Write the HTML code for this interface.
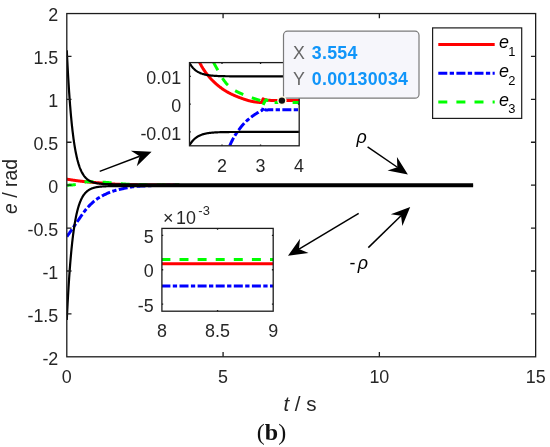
<!DOCTYPE html>
<html><head><meta charset="utf-8"><title>Figure (b)</title>
<style>html,body{margin:0;padding:0;background:#fff}body{width:550px;height:447px;overflow:hidden}</style>
</head><body>
<svg width="550" height="447" viewBox="0 0 550 447" style="display:block">
<rect width="550" height="447" fill="#fff"/>
<defs>
<clipPath id="cm"><rect x="66.8" y="13.55" width="468.84999999999997" height="343.25"/></clipPath>
<clipPath id="c1"><rect x="189.5" y="62.6" width="109.69999999999999" height="83.20000000000002"/></clipPath>
<clipPath id="c2"><rect x="161.9" y="228.4" width="111.29999999999998" height="82.79999999999998"/></clipPath>
</defs>
<g clip-path="url(#cm)" fill="none" stroke-linejoin="round">
<path d="M66.80,179.17 L67.06,179.21 L67.33,179.26 L67.59,179.30 L67.85,179.34 L68.11,179.39 L68.38,179.43 L68.64,179.47 L68.90,179.51 L69.16,179.56 L69.43,179.60 L69.69,179.64 L69.95,179.68 L70.21,179.72 L70.48,179.76 L70.74,179.80 L71.00,179.84 L71.27,179.88 L71.53,179.92 L71.79,179.96 L72.05,180.00 L72.32,180.04 L72.58,180.08 L72.84,180.12 L73.10,180.16 L73.37,180.19 L73.63,180.23 L73.89,180.27 L74.15,180.31 L74.42,180.34 L74.68,180.38 L74.94,180.42 L75.21,180.45 L75.47,180.49 L75.73,180.53 L75.99,180.56 L76.26,180.60 L76.52,180.63 L76.78,180.67 L77.04,180.70 L77.31,180.74 L77.57,180.77 L77.83,180.81 L78.09,180.84 L78.36,180.87 L78.62,180.91 L78.88,180.94 L79.15,180.98 L79.41,181.01 L79.67,181.04 L79.93,181.07 L80.20,181.11 L80.46,181.14 L80.72,181.17 L80.98,181.20 L81.25,181.23 L81.51,181.26 L81.77,181.29 L82.03,181.33 L82.30,181.36 L82.56,181.39 L82.82,181.42 L83.08,181.45 L83.35,181.48 L83.61,181.51 L83.87,181.54 L84.14,181.56 L84.40,181.59 L84.66,181.62 L84.92,181.65 L85.19,181.68 L85.45,181.71 L85.71,181.74 L85.97,181.76 L86.24,181.79 L86.50,181.82 L86.76,181.85 L87.02,181.87 L87.29,181.90 L87.55,181.93 L87.81,181.95 L88.08,181.98 L88.34,182.00 L88.60,182.03 L88.86,182.05 L89.13,182.08 L89.39,182.10 L89.65,182.13 L89.91,182.15 L90.18,182.17 L90.44,182.20 L90.70,182.22 L90.96,182.24 L91.23,182.26 L91.49,182.28 L91.75,182.31 L92.02,182.33 L92.28,182.35 L92.54,182.37 L92.80,182.39 L93.07,182.41 L93.33,182.43 L93.59,182.45 L93.85,182.47 L94.12,182.49 L94.38,182.51 L94.64,182.53 L94.90,182.55 L95.17,182.57 L95.43,182.59 L95.69,182.61 L95.96,182.63 L96.22,182.65 L96.48,182.67 L96.74,182.69 L97.01,182.71 L97.27,182.73 L97.53,182.75 L97.79,182.77 L98.06,182.79 L98.37,182.82 L99.00,182.86 L99.62,182.91 L100.25,182.96 L100.88,183.01 L101.51,183.05 L102.13,183.10 L102.76,183.15 L103.39,183.20 L104.02,183.25 L104.64,183.30 L105.27,183.35 L105.90,183.40 L106.53,183.46 L107.16,183.52 L107.78,183.58 L108.41,183.65 L109.04,183.71 L109.67,183.77 L110.29,183.82 L110.92,183.87 L111.55,183.92 L112.18,183.96 L112.80,184.01 L113.43,184.05 L114.06,184.08 L114.69,184.12 L115.31,184.16 L115.94,184.19 L116.57,184.22 L117.20,184.25 L117.82,184.28 L118.45,184.31 L119.08,184.34 L119.71,184.37 L120.33,184.39 L120.96,184.42 L121.59,184.44 L122.22,184.47 L122.84,184.49 L123.47,184.51 L124.10,184.53 L124.73,184.56 L125.35,184.58 L125.98,184.60 L126.61,184.62 L127.24,184.63 L127.86,184.65 L128.49,184.67 L129.12,184.69 L129.75,184.71 L130.37,184.72 L131.00,184.74 L131.63,184.75 L132.26,184.77 L132.88,184.78 L133.51,184.80 L134.14,184.81 L134.77,184.82 L135.40,184.84 L136.02,184.85 L136.65,184.86 L137.28,184.87 L137.91,184.88 L138.53,184.89 L139.16,184.90 L139.79,184.91 L140.42,184.92 L141.04,184.93 L141.67,184.94 L142.30,184.95 L142.93,184.96 L143.55,184.97 L144.18,184.98 L144.81,184.99 L145.44,185.00 L146.06,185.01 L146.69,185.01 L147.32,185.02 L147.95,185.03 L148.57,185.04 L149.20,185.05 L149.83,185.05 L150.46,185.06 L151.08,185.07 L151.71,185.07 L152.34,185.08 L152.97,185.09 L153.59,185.09 L154.22,185.09 L154.85,185.10 L155.48,185.10 L156.10,185.11 L156.73,185.11 L157.36,185.11 L157.99,185.12 L158.61,185.12 L159.24,185.12 L159.87,185.12 L160.50,185.12 L161.12,185.13 L161.75,185.10 L162.38,185.04 L163.01,185.02 L163.64,185.03 L164.26,185.04 L164.89,185.04 L165.52,185.05 L166.15,185.05 L166.77,185.05 L167.40,185.06 L168.03,185.06 L168.66,185.06 L169.28,185.06 L169.91,185.06 L170.54,185.06 L171.17,185.06 L171.79,185.06 L172.42,185.06 L173.05,185.06 L173.68,185.06 L174.30,185.06 L174.93,185.06 L175.56,185.06 L176.19,185.06 L176.81,185.06 L177.44,185.06 L178.07,185.06 L178.70,185.06 L179.32,185.06" stroke="#ff0000" stroke-width="3.0"/>
<path d="M66.80,236.66 L67.06,236.31 L67.33,235.96 L67.59,235.60 L67.85,235.24 L68.11,234.87 L68.38,234.51 L68.64,234.14 L68.90,233.77 L69.16,233.39 L69.43,233.02 L69.69,232.64 L69.95,232.26 L70.21,231.88 L70.48,231.50 L70.74,231.11 L71.00,230.73 L71.27,230.34 L71.53,229.95 L71.79,229.57 L72.05,229.18 L72.32,228.79 L72.58,228.40 L72.84,228.01 L73.10,227.63 L73.37,227.24 L73.63,226.85 L73.89,226.46 L74.15,226.07 L74.42,225.69 L74.68,225.30 L74.94,224.92 L75.21,224.53 L75.47,224.15 L75.73,223.77 L75.99,223.39 L76.26,223.01 L76.52,222.63 L76.78,222.25 L77.04,221.88 L77.31,221.50 L77.57,221.13 L77.83,220.76 L78.09,220.39 L78.36,220.03 L78.62,219.66 L78.88,219.29 L79.15,218.92 L79.41,218.54 L79.67,218.16 L79.93,217.78 L80.20,217.40 L80.46,217.02 L80.72,216.64 L80.98,216.26 L81.25,215.88 L81.51,215.50 L81.77,215.12 L82.03,214.75 L82.30,214.37 L82.56,214.00 L82.82,213.63 L83.08,213.26 L83.35,212.89 L83.61,212.53 L83.87,212.17 L84.14,211.82 L84.40,211.47 L84.66,211.12 L84.92,210.78 L85.19,210.44 L85.45,210.11 L85.71,209.78 L85.97,209.45 L86.24,209.13 L86.50,208.82 L86.76,208.51 L87.02,208.20 L87.29,207.90 L87.55,207.61 L87.81,207.32 L88.08,207.03 L88.34,206.74 L88.60,206.46 L88.86,206.18 L89.13,205.90 L89.39,205.63 L89.65,205.36 L89.91,205.09 L90.18,204.82 L90.44,204.56 L90.70,204.30 L90.96,204.04 L91.23,203.79 L91.49,203.53 L91.75,203.29 L92.02,203.04 L92.28,202.80 L92.54,202.56 L92.80,202.33 L93.07,202.10 L93.33,201.87 L93.59,201.64 L93.85,201.42 L94.12,201.20 L94.38,200.98 L94.64,200.77 L94.90,200.56 L95.17,200.35 L95.43,200.15 L95.69,199.95 L95.96,199.75 L96.22,199.56 L96.48,199.37 L96.74,199.18 L97.01,199.00 L97.27,198.82 L97.53,198.64 L97.79,198.46 L98.06,198.29 L98.37,198.09 L99.00,197.69 L99.62,197.31 L100.25,196.94 L100.88,196.58 L101.51,196.23 L102.13,195.89 L102.76,195.57 L103.39,195.24 L104.02,194.93 L104.64,194.62 L105.27,194.32 L105.90,194.03 L106.53,193.74 L107.16,193.46 L107.78,193.18 L108.41,192.91 L109.04,192.65 L109.67,192.40 L110.29,192.15 L110.92,191.92 L111.55,191.69 L112.18,191.46 L112.80,191.25 L113.43,191.04 L114.06,190.84 L114.69,190.65 L115.31,190.46 L115.94,190.29 L116.57,190.12 L117.20,189.96 L117.82,189.81 L118.45,189.66 L119.08,189.51 L119.71,189.37 L120.33,189.23 L120.96,189.09 L121.59,188.95 L122.22,188.82 L122.84,188.68 L123.47,188.55 L124.10,188.41 L124.73,188.28 L125.35,188.14 L125.98,188.01 L126.61,187.87 L127.24,187.74 L127.86,187.61 L128.49,187.49 L129.12,187.37 L129.75,187.25 L130.37,187.14 L131.00,187.04 L131.63,186.94 L132.26,186.85 L132.88,186.76 L133.51,186.68 L134.14,186.61 L134.77,186.54 L135.40,186.48 L136.02,186.42 L136.65,186.37 L137.28,186.32 L137.91,186.27 L138.53,186.23 L139.16,186.19 L139.79,186.15 L140.42,186.11 L141.04,186.07 L141.67,186.04 L142.30,186.00 L142.93,185.97 L143.55,185.94 L144.18,185.91 L144.81,185.88 L145.44,185.85 L146.06,185.82 L146.69,185.79 L147.32,185.77 L147.95,185.74 L148.57,185.72 L149.20,185.69 L149.83,185.67 L150.46,185.65 L151.08,185.63 L151.71,185.61 L152.34,185.59 L152.97,185.57 L153.59,185.56 L154.22,185.54 L154.85,185.52 L155.48,185.51 L156.10,185.49 L156.73,185.48 L157.36,185.46 L157.99,185.45 L158.61,185.43 L159.24,185.42 L159.87,185.40 L160.50,185.39 L161.12,185.38 L161.75,185.36 L162.38,185.32 L163.01,185.29 L163.64,185.32 L164.26,185.34 L164.89,185.35 L165.52,185.36 L166.15,185.35 L166.77,185.35 L167.40,185.35 L168.03,185.35 L168.66,185.35 L169.28,185.35 L169.91,185.35 L170.54,185.35 L171.17,185.35 L171.79,185.35 L172.42,185.35 L173.05,185.35 L173.68,185.35 L174.30,185.35 L174.93,185.35 L175.56,185.35 L176.19,185.35 L176.81,185.35 L177.44,185.35 L178.07,185.35 L178.70,185.35 L179.32,185.35" stroke="#0000ff" stroke-width="3.0" stroke-dasharray="9 2.4 4.3 2.4"/>
<path d="M66.80,185.18 L67.06,185.17 L67.33,185.17 L67.59,185.17 L67.85,185.16 L68.11,185.16 L68.38,185.15 L68.64,185.14 L68.90,185.13 L69.16,185.12 L69.43,185.11 L69.69,185.10 L69.95,185.09 L70.21,185.07 L70.48,185.06 L70.74,185.04 L71.00,185.03 L71.27,185.02 L71.53,185.00 L71.79,184.98 L72.05,184.97 L72.32,184.95 L72.58,184.92 L72.84,184.90 L73.10,184.87 L73.37,184.84 L73.63,184.81 L73.89,184.78 L74.15,184.75 L74.42,184.71 L74.68,184.67 L74.94,184.63 L75.21,184.59 L75.47,184.55 L75.73,184.51 L75.99,184.47 L76.26,184.42 L76.52,184.36 L76.78,184.30 L77.04,184.23 L77.31,184.16 L77.57,184.08 L77.83,184.00 L78.09,183.92 L78.36,183.83 L78.62,183.75 L78.88,183.66 L79.15,183.57 L79.41,183.49 L79.67,183.40 L79.93,183.31 L80.20,183.23 L80.46,183.15 L80.72,183.07 L80.98,183.00 L81.25,182.92 L81.51,182.83 L81.77,182.75 L82.03,182.66 L82.30,182.57 L82.56,182.49 L82.82,182.41 L83.08,182.33 L83.35,182.25 L83.61,182.18 L83.87,182.12 L84.14,182.07 L84.40,182.03 L84.66,182.00 L84.92,181.97 L85.19,181.94 L85.45,181.92 L85.71,181.89 L85.97,181.87 L86.24,181.85 L86.50,181.83 L86.76,181.81 L87.02,181.79 L87.29,181.78 L87.55,181.77 L87.81,181.76 L88.08,181.75 L88.34,181.74 L88.60,181.74 L88.86,181.74 L89.13,181.74 L89.39,181.75 L89.65,181.75 L89.91,181.75 L90.18,181.76 L90.44,181.76 L90.70,181.77 L90.96,181.78 L91.23,181.78 L91.49,181.79 L91.75,181.80 L92.02,181.80 L92.28,181.81 L92.54,181.82 L92.80,181.82 L93.07,181.83 L93.33,181.83 L93.59,181.84 L93.85,181.85 L94.12,181.85 L94.38,181.86 L94.64,181.86 L94.90,181.87 L95.17,181.88 L95.43,181.88 L95.69,181.89 L95.96,181.90 L96.22,181.90 L96.48,181.91 L96.74,181.92 L97.01,181.92 L97.27,181.93 L97.53,181.94 L97.79,181.95 L98.06,181.95 L98.37,181.96 L99.00,181.98 L99.62,182.00 L100.25,182.02 L100.88,182.05 L101.51,182.07 L102.13,182.10 L102.76,182.13 L103.39,182.17 L104.02,182.22 L104.64,182.26 L105.27,182.31 L105.90,182.37 L106.53,182.42 L107.16,182.48 L107.78,182.54 L108.41,182.60 L109.04,182.66 L109.67,182.72 L110.29,182.78 L110.92,182.84 L111.55,182.89 L112.18,182.95 L112.80,183.00 L113.43,183.06 L114.06,183.12 L114.69,183.18 L115.31,183.24 L115.94,183.30 L116.57,183.36 L117.20,183.42 L117.82,183.48 L118.45,183.54 L119.08,183.59 L119.71,183.65 L120.33,183.71 L120.96,183.76 L121.59,183.81 L122.22,183.86 L122.84,183.91 L123.47,183.96 L124.10,184.00 L124.73,184.05 L125.35,184.09 L125.98,184.13 L126.61,184.17 L127.24,184.22 L127.86,184.26 L128.49,184.30 L129.12,184.34 L129.75,184.38 L130.37,184.41 L131.00,184.45 L131.63,184.48 L132.26,184.51 L132.88,184.54 L133.51,184.56 L134.14,184.59 L134.77,184.61 L135.40,184.63 L136.02,184.65 L136.65,184.67 L137.28,184.69 L137.91,184.71 L138.53,184.72 L139.16,184.74 L139.79,184.75 L140.42,184.77 L141.04,184.78 L141.67,184.79 L142.30,184.81 L142.93,184.82 L143.55,184.83 L144.18,184.84 L144.81,184.85 L145.44,184.86 L146.06,184.87 L146.69,184.88 L147.32,184.89 L147.95,184.90 L148.57,184.91 L149.20,184.92 L149.83,184.93 L150.46,184.94 L151.08,184.94 L151.71,184.95 L152.34,184.96 L152.97,184.97 L153.59,184.98 L154.22,184.99 L154.85,185.00 L155.48,185.00 L156.10,185.01 L156.73,185.02 L157.36,185.03 L157.99,185.03 L158.61,185.04 L159.24,185.05 L159.87,185.06 L160.50,185.06 L161.12,185.07 L161.75,185.19 L162.38,185.22 L163.01,185.17 L163.64,185.12 L164.26,185.08 L164.89,185.04 L165.52,185.05 L166.15,185.06 L166.77,185.07 L167.40,185.07 L168.03,185.08 L168.66,185.09 L169.28,185.09 L169.91,185.09 L170.54,185.10 L171.17,185.10 L171.79,185.10 L172.42,185.11 L173.05,185.11 L173.68,185.11 L174.30,185.11 L174.93,185.11 L175.56,185.11 L176.19,185.12 L176.81,185.12 L177.44,185.12 L178.07,185.12 L178.70,185.12 L179.32,185.12" stroke="#00ff00" stroke-width="3.0" stroke-dasharray="9 9.1"/>
<path d="M66.80,50.38 L66.96,53.70 L67.11,56.93 L67.27,60.09 L67.43,63.17 L67.58,66.17 L67.74,69.10 L67.90,71.95 L68.05,74.73 L68.21,77.45 L68.37,80.09 L68.52,82.68 L68.68,85.19 L68.84,87.65 L69.00,90.04 L69.15,92.38 L69.31,94.66 L69.47,96.88 L69.62,99.04 L69.78,101.16 L69.94,103.22 L70.09,105.23 L70.25,107.18 L70.41,109.10 L70.56,110.96 L70.72,112.78 L70.88,114.55 L71.03,116.28 L71.19,117.96 L71.35,119.61 L71.50,121.21 L71.66,122.77 L71.82,124.30 L71.97,125.78 L72.13,127.23 L72.29,128.65 L72.45,130.03 L72.60,131.37 L72.76,132.68 L72.92,133.96 L73.07,135.21 L73.23,136.43 L73.39,137.61 L73.54,138.77 L73.70,139.90 L73.86,141.00 L74.01,142.07 L74.17,143.12 L74.33,144.14 L74.48,145.13 L74.64,146.10 L74.80,147.05 L74.95,147.97 L75.11,148.87 L75.27,149.75 L75.42,150.61 L75.58,151.44 L75.74,152.26 L75.89,153.05 L76.05,153.83 L76.21,154.58 L76.37,155.32 L76.52,156.04 L76.68,156.74 L76.84,157.42 L76.99,158.09 L77.15,158.74 L77.31,159.37 L77.46,159.99 L77.62,160.59 L77.78,161.18 L77.93,161.75 L78.09,162.31 L78.25,162.86 L78.40,163.39 L78.56,163.91 L78.72,164.41 L78.87,164.90 L79.03,165.39 L79.19,165.85 L79.34,166.31 L79.50,166.76 L79.66,167.19 L79.81,167.62 L79.97,168.03 L80.13,168.43 L80.29,168.83 L80.44,169.21 L80.60,169.59 L80.76,169.95 L80.91,170.31 L81.07,170.65 L81.23,170.99 L81.38,171.32 L81.54,171.64 L81.70,171.96 L81.85,172.26 L82.01,172.56 L82.17,172.85 L82.32,173.14 L82.48,173.41 L82.64,173.68 L82.79,173.95 L82.95,174.20 L83.11,174.46 L83.26,174.70 L83.42,174.94 L83.58,175.17 L83.74,175.40 L83.89,175.62 L84.05,175.83 L84.21,176.04 L84.36,176.25 L84.52,176.45 L84.68,176.64 L84.83,176.83 L84.99,177.02 L85.15,177.20 L85.30,177.38 L85.46,177.55 L85.62,177.72 L85.77,177.88 L85.93,178.04 L86.09,178.19 L86.24,178.35 L86.40,178.49 L86.56,178.64 L86.71,178.78 L86.87,178.92 L87.03,179.05 L87.18,179.18 L87.34,179.31 L87.50,179.43 L87.66,179.55 L87.81,179.67 L87.97,179.79 L88.13,179.90 L88.28,180.01 L88.44,180.11 L88.60,180.22 L88.75,180.32 L88.91,180.42 L89.07,180.52 L89.22,180.61 L89.38,180.70 L89.54,180.79 L89.69,180.88 L89.85,180.96 L90.01,181.05 L90.16,181.13 L90.32,181.21 L90.48,181.28 L90.63,181.36 L90.79,181.43 L90.95,181.50 L91.10,181.57 L91.26,181.64 L91.42,181.71 L91.58,181.77 L91.73,181.83 L91.89,181.90 L92.05,181.96 L92.20,182.01 L92.36,182.07 L92.52,182.13 L92.67,182.18 L92.83,182.23 L92.99,182.29 L93.14,182.34 L93.30,182.39 L93.46,182.43 L93.61,182.48 L93.77,182.53 L93.93,182.57 L94.08,182.61 L94.24,182.66 L94.40,182.70 L94.55,182.74 L94.71,182.78 L94.87,182.81 L95.03,182.85 L95.18,182.89 L95.34,182.92 L95.50,182.96 L95.65,182.99 L95.81,183.02 L95.97,183.06 L96.12,183.09 L96.28,183.12 L96.44,183.15 L96.59,183.18 L96.75,183.20 L96.91,183.23 L97.06,183.26 L97.22,183.29 L97.38,183.31 L97.53,183.34 L97.69,183.36 L97.85,183.38 L98.00,183.41 L98.16,183.43 L98.32,183.45 L98.47,183.47 L98.63,183.49 L98.79,183.51 L98.95,183.53 L99.10,183.55 L99.26,183.57 L99.42,183.59 L99.57,183.61 L99.73,183.63 L99.89,183.64 L100.04,183.66 L100.20,183.68 L100.36,183.69 L100.51,183.71 L100.67,183.72 L100.83,183.74 L100.98,183.75 L101.14,183.77 L101.30,183.78 L101.45,183.79 L101.61,183.81 L101.77,183.82 L101.92,183.83 L102.08,183.84 L102.24,183.85 L102.39,183.87 L102.55,183.88 L102.71,183.89 L102.87,183.90 L103.02,183.91 L103.18,183.92 L103.34,183.93 L103.49,183.94 L103.65,183.95 L103.81,183.96 L103.96,183.97 L104.12,183.97 L104.28,183.98 L104.43,183.99 L104.59,184.00 L104.75,184.01 L104.90,184.02 L105.06,184.02 L105.22,184.03 L105.37,184.04 L105.53,184.04 L105.69,184.05 L105.84,184.06 L106.00,184.06 L106.16,184.07 L106.32,184.08 L106.47,184.08 L106.63,184.09 L106.79,184.09 L106.94,184.10 L107.10,184.10 L107.26,184.11 L107.41,184.11 L107.57,184.12 L107.73,184.12 L107.88,184.13 L108.04,184.13 L108.20,184.14 L108.35,184.14 L108.51,184.15 L108.67,184.15 L108.82,184.16 L108.98,184.16 L109.14,184.16 L109.29,184.17 L109.45,184.17 L109.61,184.17 L109.76,184.18 L109.92,184.18 L110.08,184.18 L110.24,184.19 L110.39,184.19 L110.55,184.19 L110.71,184.20 L110.86,184.20 L111.02,184.20 L111.18,184.21 L111.33,184.21 L111.49,184.21 L111.65,184.21 L111.80,184.22 L111.96,184.22 L112.12,184.22 L112.27,184.22 L112.43,184.23 L112.59,184.23 L112.74,184.23 L112.90,184.23 L113.06,184.23 L113.21,184.24 L113.37,184.24 L113.53,184.24 L113.69,184.24 L114.31,184.25 L120.39,184.29 L126.47,184.31 L132.56,184.31 L138.64,184.32 L144.72,184.32 L150.80,184.32 L156.88,184.32 L162.96,184.32 L169.05,184.32 L175.13,184.32 L181.21,184.32 L187.29,184.32 L193.37,184.32 L199.46,184.32 L205.54,184.32 L211.62,184.32 L217.70,184.32 L223.78,184.32 L229.86,184.32 L235.95,184.32 L242.03,184.32 L248.11,184.32 L254.19,184.32 L260.27,184.32 L266.36,184.32 L272.44,184.32 L278.52,184.32 L284.60,184.32 L290.68,184.32 L296.76,184.32 L302.85,184.32 L308.93,184.32 L315.01,184.32 L321.09,184.32 L327.17,184.32 L333.26,184.32 L339.34,184.32 L345.42,184.32 L351.50,184.32 L357.58,184.32 L363.66,184.32 L369.75,184.32 L375.83,184.32 L381.91,184.32 L387.99,184.32 L394.07,184.32 L400.15,184.32 L406.24,184.32 L412.32,184.32 L418.40,184.32 L424.48,184.32 L430.56,184.32 L436.65,184.32 L442.73,184.32 L448.81,184.32 L454.89,184.32 L460.97,184.32 L467.05,184.32 L473.14,184.32" stroke="#000" stroke-width="2.2"/>
<path d="M66.80,319.97 L66.96,316.65 L67.11,313.42 L67.27,310.26 L67.43,307.18 L67.58,304.18 L67.74,301.25 L67.90,298.40 L68.05,295.62 L68.21,292.90 L68.37,290.26 L68.52,287.67 L68.68,285.16 L68.84,282.70 L69.00,280.31 L69.15,277.97 L69.31,275.69 L69.47,273.47 L69.62,271.31 L69.78,269.19 L69.94,267.13 L70.09,265.12 L70.25,263.17 L70.41,261.25 L70.56,259.39 L70.72,257.57 L70.88,255.80 L71.03,254.07 L71.19,252.39 L71.35,250.74 L71.50,249.14 L71.66,247.58 L71.82,246.05 L71.97,244.57 L72.13,243.12 L72.29,241.70 L72.45,240.32 L72.60,238.98 L72.76,237.67 L72.92,236.39 L73.07,235.14 L73.23,233.92 L73.39,232.74 L73.54,231.58 L73.70,230.45 L73.86,229.35 L74.01,228.28 L74.17,227.23 L74.33,226.21 L74.48,225.22 L74.64,224.25 L74.80,223.30 L74.95,222.38 L75.11,221.48 L75.27,220.60 L75.42,219.74 L75.58,218.91 L75.74,218.09 L75.89,217.30 L76.05,216.52 L76.21,215.77 L76.37,215.03 L76.52,214.31 L76.68,213.61 L76.84,212.93 L76.99,212.26 L77.15,211.61 L77.31,210.98 L77.46,210.36 L77.62,209.76 L77.78,209.17 L77.93,208.60 L78.09,208.04 L78.25,207.49 L78.40,206.96 L78.56,206.44 L78.72,205.94 L78.87,205.45 L79.03,204.96 L79.19,204.50 L79.34,204.04 L79.50,203.59 L79.66,203.16 L79.81,202.73 L79.97,202.32 L80.13,201.92 L80.29,201.52 L80.44,201.14 L80.60,200.76 L80.76,200.40 L80.91,200.04 L81.07,199.70 L81.23,199.36 L81.38,199.03 L81.54,198.71 L81.70,198.39 L81.85,198.09 L82.01,197.79 L82.17,197.50 L82.32,197.21 L82.48,196.94 L82.64,196.67 L82.79,196.40 L82.95,196.15 L83.11,195.89 L83.26,195.65 L83.42,195.41 L83.58,195.18 L83.74,194.95 L83.89,194.73 L84.05,194.52 L84.21,194.31 L84.36,194.10 L84.52,193.90 L84.68,193.71 L84.83,193.52 L84.99,193.33 L85.15,193.15 L85.30,192.97 L85.46,192.80 L85.62,192.63 L85.77,192.47 L85.93,192.31 L86.09,192.16 L86.24,192.00 L86.40,191.86 L86.56,191.71 L86.71,191.57 L86.87,191.43 L87.03,191.30 L87.18,191.17 L87.34,191.04 L87.50,190.92 L87.66,190.80 L87.81,190.68 L87.97,190.56 L88.13,190.45 L88.28,190.34 L88.44,190.24 L88.60,190.13 L88.75,190.03 L88.91,189.93 L89.07,189.83 L89.22,189.74 L89.38,189.65 L89.54,189.56 L89.69,189.47 L89.85,189.39 L90.01,189.30 L90.16,189.22 L90.32,189.14 L90.48,189.07 L90.63,188.99 L90.79,188.92 L90.95,188.85 L91.10,188.78 L91.26,188.71 L91.42,188.64 L91.58,188.58 L91.73,188.52 L91.89,188.45 L92.05,188.39 L92.20,188.34 L92.36,188.28 L92.52,188.22 L92.67,188.17 L92.83,188.12 L92.99,188.06 L93.14,188.01 L93.30,187.96 L93.46,187.92 L93.61,187.87 L93.77,187.82 L93.93,187.78 L94.08,187.74 L94.24,187.69 L94.40,187.65 L94.55,187.61 L94.71,187.57 L94.87,187.54 L95.03,187.50 L95.18,187.46 L95.34,187.43 L95.50,187.39 L95.65,187.36 L95.81,187.33 L95.97,187.29 L96.12,187.26 L96.28,187.23 L96.44,187.20 L96.59,187.17 L96.75,187.15 L96.91,187.12 L97.06,187.09 L97.22,187.06 L97.38,187.04 L97.53,187.01 L97.69,186.99 L97.85,186.97 L98.00,186.94 L98.16,186.92 L98.32,186.90 L98.47,186.88 L98.63,186.86 L98.79,186.84 L98.95,186.82 L99.10,186.80 L99.26,186.78 L99.42,186.76 L99.57,186.74 L99.73,186.72 L99.89,186.71 L100.04,186.69 L100.20,186.67 L100.36,186.66 L100.51,186.64 L100.67,186.63 L100.83,186.61 L100.98,186.60 L101.14,186.58 L101.30,186.57 L101.45,186.56 L101.61,186.54 L101.77,186.53 L101.92,186.52 L102.08,186.51 L102.24,186.50 L102.39,186.48 L102.55,186.47 L102.71,186.46 L102.87,186.45 L103.02,186.44 L103.18,186.43 L103.34,186.42 L103.49,186.41 L103.65,186.40 L103.81,186.39 L103.96,186.38 L104.12,186.38 L104.28,186.37 L104.43,186.36 L104.59,186.35 L104.75,186.34 L104.90,186.33 L105.06,186.33 L105.22,186.32 L105.37,186.31 L105.53,186.31 L105.69,186.30 L105.84,186.29 L106.00,186.29 L106.16,186.28 L106.32,186.27 L106.47,186.27 L106.63,186.26 L106.79,186.26 L106.94,186.25 L107.10,186.25 L107.26,186.24 L107.41,186.24 L107.57,186.23 L107.73,186.23 L107.88,186.22 L108.04,186.22 L108.20,186.21 L108.35,186.21 L108.51,186.20 L108.67,186.20 L108.82,186.19 L108.98,186.19 L109.14,186.19 L109.29,186.18 L109.45,186.18 L109.61,186.18 L109.76,186.17 L109.92,186.17 L110.08,186.17 L110.24,186.16 L110.39,186.16 L110.55,186.16 L110.71,186.15 L110.86,186.15 L111.02,186.15 L111.18,186.14 L111.33,186.14 L111.49,186.14 L111.65,186.14 L111.80,186.13 L111.96,186.13 L112.12,186.13 L112.27,186.13 L112.43,186.12 L112.59,186.12 L112.74,186.12 L112.90,186.12 L113.06,186.12 L113.21,186.11 L113.37,186.11 L113.53,186.11 L113.69,186.11 L114.31,186.10 L120.39,186.06 L126.47,186.04 L132.56,186.04 L138.64,186.03 L144.72,186.03 L150.80,186.03 L156.88,186.03 L162.96,186.03 L169.05,186.03 L175.13,186.03 L181.21,186.03 L187.29,186.03 L193.37,186.03 L199.46,186.03 L205.54,186.03 L211.62,186.03 L217.70,186.03 L223.78,186.03 L229.86,186.03 L235.95,186.03 L242.03,186.03 L248.11,186.03 L254.19,186.03 L260.27,186.03 L266.36,186.03 L272.44,186.03 L278.52,186.03 L284.60,186.03 L290.68,186.03 L296.76,186.03 L302.85,186.03 L308.93,186.03 L315.01,186.03 L321.09,186.03 L327.17,186.03 L333.26,186.03 L339.34,186.03 L345.42,186.03 L351.50,186.03 L357.58,186.03 L363.66,186.03 L369.75,186.03 L375.83,186.03 L381.91,186.03 L387.99,186.03 L394.07,186.03 L400.15,186.03 L406.24,186.03 L412.32,186.03 L418.40,186.03 L424.48,186.03 L430.56,186.03 L436.65,186.03 L442.73,186.03 L448.81,186.03 L454.89,186.03 L460.97,186.03 L467.05,186.03 L473.14,186.03" stroke="#000" stroke-width="2.2"/>
</g>
<rect x="66.8" y="13.55" width="468.85" height="343.25" fill="none" stroke="#1c1c1c" stroke-width="1.3"/>
<path d="M223.08,356.8 v-4.7 M223.08,13.55 v4.7 M379.37,356.8 v-4.7 M379.37,13.55 v4.7 M66.8,313.89 h4.7 M535.65,313.89 h-4.7 M66.8,270.99 h4.7 M535.65,270.99 h-4.7 M66.8,228.08 h4.7 M535.65,228.08 h-4.7 M66.8,185.18 h4.7 M535.65,185.18 h-4.7 M66.8,142.27 h4.7 M535.65,142.27 h-4.7 M66.8,99.36 h4.7 M535.65,99.36 h-4.7 M66.8,56.46 h4.7 M535.65,56.46 h-4.7 " stroke="#1c1c1c" stroke-width="1.3" fill="none"/>
<g font-family="Liberation Sans, Arial, sans-serif" font-size="17.9" fill="#262626">
<text x="58.3" y="364.50" text-anchor="end">-2</text>
<text x="58.3" y="321.59" text-anchor="end">-1.5</text>
<text x="58.3" y="278.69" text-anchor="end">-1</text>
<text x="58.3" y="235.78" text-anchor="end">-0.5</text>
<text x="58.3" y="192.88" text-anchor="end">0</text>
<text x="58.3" y="149.97" text-anchor="end">0.5</text>
<text x="58.3" y="107.06" text-anchor="end">1</text>
<text x="58.3" y="64.16" text-anchor="end">1.5</text>
<text x="58.3" y="21.25" text-anchor="end">2</text>
<text x="66.80" y="383.2" text-anchor="middle">0</text>
<text x="223.08" y="383.2" text-anchor="middle">5</text>
<text x="379.37" y="383.2" text-anchor="middle">10</text>
<text x="535.65" y="383.2" text-anchor="middle">15</text>
</g>
<g font-family="Liberation Sans, Arial, sans-serif" fill="#262626">
<text x="283.4" y="411.0" font-size="20.6"><tspan font-style="italic">t</tspan> / s</text>
<text transform="translate(16.9,213.9) rotate(-90)" font-size="19.4"><tspan font-style="italic">e</tspan> / rad</text>
</g>
<rect x="189.5" y="62.6" width="109.70" height="83.20" fill="#fff"/>
<g clip-path="url(#c1)" fill="none" stroke-linejoin="round">
<path d="M198.87,61.03 L199.26,61.85 L199.66,62.63 L200.05,63.39 L200.45,64.13 L200.84,64.85 L201.24,65.55 L201.63,66.24 L202.03,66.91 L202.42,67.57 L202.81,68.21 L203.21,68.83 L203.60,69.45 L204.00,70.05 L204.39,70.63 L204.79,71.21 L205.18,71.77 L205.58,72.33 L205.97,72.87 L206.36,73.40 L206.76,73.92 L207.15,74.42 L207.55,74.92 L207.94,75.42 L208.34,75.90 L208.73,76.37 L209.13,76.83 L209.52,77.29 L209.91,77.74 L210.31,78.18 L210.70,78.61 L211.10,79.03 L211.49,79.45 L211.89,79.86 L212.28,80.27 L212.68,80.67 L213.07,81.06 L213.46,81.44 L213.86,81.82 L214.25,82.20 L214.65,82.57 L215.04,82.93 L215.44,83.29 L215.83,83.64 L216.22,83.99 L216.62,84.33 L217.01,84.67 L217.41,85.00 L217.80,85.33 L218.20,85.66 L218.59,85.98 L218.99,86.29 L219.38,86.61 L219.77,86.91 L220.17,87.22 L220.56,87.52 L220.96,87.82 L221.35,88.11 L221.75,88.40 L222.14,88.68 L222.54,88.96 L222.93,89.24 L223.32,89.51 L223.72,89.77 L224.11,90.03 L224.51,90.29 L224.90,90.54 L225.30,90.78 L225.69,91.02 L226.09,91.26 L226.48,91.49 L226.87,91.72 L227.27,91.95 L227.66,92.17 L228.06,92.39 L228.45,92.60 L228.85,92.81 L229.24,93.02 L229.64,93.23 L230.03,93.43 L230.42,93.63 L230.82,93.82 L231.21,94.02 L231.61,94.21 L232.00,94.40 L232.40,94.58 L232.79,94.76 L233.19,94.94 L233.58,95.12 L233.97,95.30 L234.37,95.47 L234.76,95.64 L235.16,95.81 L235.55,95.98 L235.95,96.14 L236.34,96.30 L236.74,96.46 L237.13,96.62 L237.52,96.78 L237.92,96.93 L238.31,97.08 L238.71,97.23 L239.10,97.38 L239.50,97.53 L239.89,97.67 L240.29,97.82 L240.68,97.96 L241.07,98.10 L241.47,98.25 L241.86,98.39 L242.26,98.54 L242.65,98.68 L243.05,98.82 L243.44,98.97 L243.84,99.11 L244.23,99.24 L244.62,99.38 L245.02,99.51 L245.41,99.65 L245.81,99.77 L246.20,99.90 L246.60,100.02 L246.99,100.15 L247.38,100.26 L247.78,100.38 L248.17,100.49 L248.57,100.60 L248.96,100.70 L249.36,100.81 L249.75,100.90 L250.15,101.00 L250.54,101.09 L250.93,101.18 L251.33,101.27 L251.72,101.35 L252.12,101.43 L252.51,101.51 L252.91,101.58 L253.30,101.65 L253.70,101.72 L254.09,101.79 L254.48,101.85 L254.88,101.91 L255.27,101.97 L255.67,102.02 L256.06,102.08 L256.46,102.13 L256.85,102.17 L257.25,102.22 L257.64,102.26 L258.03,102.30 L258.43,102.34 L258.82,102.38 L259.22,102.41 L259.61,102.44 L260.01,102.47 L260.40,102.50 L260.80,102.52 L261.19,102.55 L261.32,102.55 L261.39,102.56 L261.46,102.56 L261.53,102.56 L261.58,102.57 L261.60,102.57 L261.67,102.57 L261.74,102.48 L261.81,102.28 L261.88,102.09 L261.95,101.90 L261.98,101.83 L262.02,101.71 L262.09,101.51 L262.16,101.32 L262.23,101.13 L262.30,100.94 L262.37,100.74 L262.37,100.74 L262.44,100.55 L262.51,100.36 L262.58,100.17 L262.65,99.97 L262.72,99.78 L262.77,99.66 L262.79,99.59 L262.86,99.40 L262.93,99.20 L263.00,99.01 L263.07,98.88 L263.14,98.91 L263.16,98.92 L263.21,98.95 L263.28,98.99 L263.35,99.02 L263.42,99.06 L263.49,99.09 L263.56,99.12 L263.56,99.12 L263.63,99.15 L263.70,99.18 L263.77,99.21 L263.84,99.24 L263.91,99.27 L263.95,99.29 L263.98,99.30 L264.05,99.33 L264.12,99.36 L264.19,99.38 L264.26,99.41 L264.33,99.43 L264.35,99.44 L264.40,99.46 L264.48,99.48 L264.55,99.51 L264.62,99.53 L264.69,99.55 L264.74,99.57 L264.76,99.57 L264.83,99.60 L264.90,99.62 L264.97,99.64 L265.04,99.66 L265.11,99.68 L265.13,99.69 L265.18,99.70 L265.25,99.72 L265.32,99.73 L265.39,99.75 L265.46,99.77 L265.53,99.79 L265.53,99.79 L265.60,99.80 L265.67,99.82 L265.74,99.84 L265.81,99.85 L265.88,99.87 L265.92,99.88 L265.95,99.88 L266.02,99.90 L266.09,99.91 L266.16,99.93 L266.23,99.94 L266.30,99.95 L266.32,99.96 L266.37,99.97 L266.44,99.98 L266.51,99.99 L266.58,100.00 L266.65,100.02 L266.71,100.03 L266.72,100.03 L266.79,100.04 L266.86,100.05 L266.93,100.06 L267.00,100.07 L267.07,100.08 L267.11,100.09 L267.14,100.09 L267.21,100.10 L267.28,100.11 L267.35,100.12 L267.42,100.13 L267.49,100.14 L267.50,100.14 L267.56,100.15 L267.63,100.16 L267.70,100.17 L267.77,100.17 L267.84,100.18 L267.90,100.19 L267.91,100.19 L267.98,100.20 L268.05,100.21 L268.12,100.21 L268.19,100.22 L268.26,100.23 L268.29,100.23 L268.68,100.27 L269.08,100.30 L269.47,100.33 L269.87,100.35 L270.26,100.37 L270.66,100.39 L271.05,100.41 L271.45,100.43 L271.84,100.44 L272.23,100.45 L272.63,100.46 L273.02,100.47 L273.42,100.48 L273.81,100.49 L274.21,100.49 L274.60,100.50 L275.00,100.50 L275.39,100.51 L275.78,100.51 L276.18,100.51 L276.57,100.52 L276.97,100.52 L277.36,100.52 L277.76,100.52 L278.15,100.52 L278.54,100.53 L278.94,100.53 L279.33,100.53 L279.73,100.53 L280.12,100.53 L280.52,100.53 L280.91,100.53 L281.31,100.53 L281.70,100.53 L282.09,100.53 L282.49,100.53 L282.88,100.53 L283.28,100.53 L283.67,100.53 L284.07,100.53 L284.46,100.53 L284.86,100.53 L285.25,100.53 L285.64,100.53 L286.04,100.54 L286.43,100.54 L286.83,100.54 L287.22,100.54 L287.62,100.54 L288.01,100.54 L288.41,100.54 L288.80,100.54 L289.19,100.54 L289.59,100.54 L289.98,100.54 L290.38,100.54 L290.77,100.54 L291.17,100.54 L291.56,100.54 L291.96,100.54 L292.35,100.54 L292.74,100.54 L293.14,100.54 L293.53,100.54 L293.93,100.54 L294.32,100.54 L294.72,100.54 L295.11,100.54 L295.51,100.54 L295.90,100.54 L296.29,100.54 L296.69,100.54 L297.08,100.54 L297.48,100.54 L297.87,100.54 L298.27,100.54 L298.66,100.54 L299.06,100.54 L299.45,100.54 L299.84,100.54 L300.24,100.54 L300.63,100.54 L301.03,100.54" stroke="#ff0000" stroke-width="3.0"/>
<path d="M229.71,145.85 L229.99,145.19 L230.26,144.54 L230.54,143.92 L230.81,143.30 L231.09,142.71 L231.36,142.12 L231.64,141.55 L231.91,141.00 L232.19,140.46 L232.46,139.92 L232.74,139.40 L233.01,138.89 L233.29,138.39 L233.56,137.90 L233.84,137.42 L234.12,136.95 L234.39,136.49 L234.67,136.03 L234.94,135.59 L235.22,135.14 L235.49,134.71 L235.77,134.28 L236.04,133.86 L236.32,133.45 L236.59,133.04 L236.87,132.63 L237.14,132.23 L237.42,131.84 L237.70,131.44 L237.97,131.06 L238.25,130.68 L238.52,130.30 L238.80,129.92 L239.07,129.55 L239.35,129.18 L239.62,128.81 L239.90,128.45 L240.17,128.09 L240.45,127.73 L240.72,127.37 L241.00,127.02 L241.28,126.67 L241.55,126.32 L241.83,125.98 L242.10,125.65 L242.38,125.32 L242.65,124.99 L242.93,124.68 L243.20,124.37 L243.48,124.06 L243.75,123.76 L244.03,123.46 L244.30,123.17 L244.58,122.88 L244.85,122.60 L245.13,122.32 L245.41,122.05 L245.68,121.78 L245.96,121.51 L246.23,121.25 L246.51,120.99 L246.78,120.74 L247.06,120.49 L247.33,120.24 L247.61,120.00 L247.88,119.76 L248.16,119.52 L248.43,119.28 L248.71,119.05 L248.99,118.82 L249.26,118.59 L249.54,118.37 L249.81,118.15 L250.09,117.93 L250.36,117.71 L250.64,117.50 L250.91,117.29 L251.19,117.08 L251.46,116.87 L251.74,116.67 L252.01,116.47 L252.29,116.27 L252.56,116.07 L252.84,115.87 L253.12,115.68 L253.39,115.49 L253.67,115.29 L253.94,115.11 L254.22,114.92 L254.49,114.73 L254.77,114.55 L255.04,114.37 L255.32,114.19 L255.59,114.01 L255.87,113.84 L256.14,113.66 L256.42,113.49 L256.69,113.32 L256.97,113.15 L257.25,112.98 L257.52,112.82 L257.80,112.65 L258.07,112.49 L258.35,112.33 L258.62,112.17 L258.90,112.01 L259.17,111.86 L259.45,111.70 L259.72,111.55 L260.00,111.40 L260.27,111.25 L260.55,111.10 L260.83,110.95 L261.10,110.79 L261.32,110.66 L261.38,110.63 L261.39,110.62 L261.46,110.58 L261.53,110.53 L261.60,110.49 L261.65,110.46 L261.67,110.45 L261.74,110.41 L261.81,110.37 L261.88,110.33 L261.93,110.30 L261.95,110.29 L262.02,110.24 L262.09,110.20 L262.16,110.16 L262.20,110.14 L262.23,110.12 L262.30,110.08 L262.37,110.05 L262.44,110.01 L262.48,109.99 L262.51,109.87 L262.58,109.65 L262.65,109.42 L262.72,109.19 L262.75,109.09 L262.79,108.96 L262.86,108.74 L262.93,108.51 L263.00,108.28 L263.03,108.20 L263.07,108.05 L263.14,107.83 L263.21,107.60 L263.28,107.53 L263.30,107.55 L263.35,107.61 L263.42,107.70 L263.49,107.79 L263.56,107.88 L263.58,107.90 L263.63,107.97 L263.70,108.06 L263.77,108.16 L263.84,108.25 L263.85,108.26 L263.91,108.34 L263.98,108.43 L264.05,108.52 L264.12,108.61 L264.13,108.62 L264.19,108.70 L264.26,108.79 L264.33,108.87 L264.40,108.95 L264.48,109.03 L264.55,109.11 L264.62,109.18 L264.68,109.24 L264.69,109.25 L264.76,109.32 L264.83,109.38 L264.90,109.44 L264.96,109.49 L264.97,109.50 L265.04,109.55 L265.11,109.60 L265.18,109.65 L265.23,109.69 L265.25,109.70 L265.32,109.74 L265.39,109.78 L265.46,109.81 L265.51,109.84 L265.53,109.85 L265.60,109.88 L265.67,109.90 L265.74,109.93 L265.78,109.94 L265.81,109.95 L265.88,109.97 L265.95,109.99 L266.02,110.00 L266.06,110.01 L266.09,110.01 L266.16,110.02 L266.23,110.03 L266.30,110.04 L266.33,110.04 L266.37,110.04 L266.44,110.05 L266.51,110.05 L266.58,110.05 L266.61,110.05 L266.65,110.05 L266.72,110.04 L266.79,110.04 L266.86,110.03 L266.88,110.03 L266.93,110.03 L267.00,110.02 L267.07,110.01 L267.14,110.00 L267.16,110.00 L267.21,109.99 L267.28,109.98 L267.35,109.97 L267.42,109.96 L267.43,109.96 L267.49,109.95 L267.56,109.94 L267.63,109.93 L267.70,109.92 L267.71,109.92 L267.77,109.91 L267.84,109.90 L267.91,109.89 L267.98,109.87 L267.98,109.87 L268.05,109.86 L268.12,109.85 L268.19,109.84 L268.26,109.83 L268.54,109.79 L268.81,109.76 L269.09,109.73 L269.36,109.71 L269.64,109.69 L269.91,109.68 L270.19,109.67 L270.46,109.67 L270.74,109.67 L271.01,109.67 L271.29,109.68 L271.56,109.68 L271.84,109.69 L272.12,109.69 L272.39,109.70 L272.67,109.70 L272.94,109.71 L273.22,109.71 L273.49,109.71 L273.77,109.71 L274.04,109.71 L274.32,109.71 L274.59,109.72 L274.87,109.71 L275.14,109.71 L275.42,109.71 L275.69,109.71 L275.97,109.71 L276.25,109.71 L276.52,109.71 L276.80,109.71 L277.07,109.71 L277.35,109.71 L277.62,109.71 L277.90,109.71 L278.17,109.71 L278.45,109.71 L278.72,109.71 L279.00,109.71 L279.27,109.71 L279.55,109.71 L279.82,109.71 L280.10,109.71 L280.38,109.71 L280.65,109.71 L280.93,109.71 L281.20,109.71 L281.48,109.71 L281.75,109.71 L282.03,109.71 L282.30,109.71 L282.58,109.71 L282.85,109.71 L283.13,109.71 L283.40,109.71 L283.68,109.71 L283.96,109.71 L284.23,109.71 L284.51,109.71 L284.78,109.71 L285.06,109.71 L285.33,109.71 L285.61,109.71 L285.88,109.71 L286.16,109.71 L286.43,109.71 L286.71,109.71 L286.98,109.71 L287.26,109.71 L287.53,109.71 L287.81,109.71 L288.09,109.71 L288.36,109.71 L288.64,109.71 L288.91,109.71 L289.19,109.71 L289.46,109.71 L289.74,109.71 L290.01,109.71 L290.29,109.71 L290.56,109.71 L290.84,109.71 L291.11,109.71 L291.39,109.71 L291.67,109.71 L291.94,109.71 L292.22,109.71 L292.49,109.71 L292.77,109.71 L293.04,109.71 L293.32,109.71 L293.59,109.71 L293.87,109.71 L294.14,109.71 L294.42,109.71 L294.69,109.71 L294.97,109.71 L295.25,109.71 L295.52,109.71 L295.80,109.71 L296.07,109.71 L296.35,109.71 L296.62,109.71 L296.90,109.71 L297.17,109.71 L297.45,109.71 L297.72,109.71 L298.00,109.71 L298.27,109.71 L298.55,109.71 L298.82,109.71 L299.10,109.71 L299.38,109.71 L299.65,109.71 L299.93,109.71 L300.20,109.71 L300.48,109.71 L300.75,109.71 L301.03,109.71" stroke="#0000ff" stroke-width="3.0" stroke-dasharray="9 2.4 4.3 2.4"/>
<path d="M213.56,62.31 L213.76,62.73 L213.97,63.14 L214.18,63.55 L214.38,63.95 L214.59,64.34 L214.80,64.74 L215.00,65.12 L215.21,65.51 L215.42,65.89 L215.62,66.26 L215.83,66.64 L216.04,67.01 L216.25,67.38 L216.45,67.75 L216.66,68.12 L216.87,68.49 L217.07,68.85 L217.28,69.22 L217.49,69.59 L217.69,69.96 L217.90,70.33 L218.11,70.70 L218.31,71.07 L218.52,71.45 L218.73,71.82 L218.93,72.20 L219.14,72.57 L219.35,72.94 L219.55,73.31 L219.76,73.68 L219.97,74.05 L220.17,74.42 L220.38,74.78 L220.59,75.14 L220.79,75.50 L221.00,75.85 L221.21,76.20 L221.41,76.55 L221.62,76.89 L221.83,77.23 L222.03,77.56 L222.24,77.88 L222.45,78.20 L222.65,78.51 L222.86,78.82 L223.07,79.11 L223.27,79.41 L223.48,79.70 L223.69,79.98 L223.89,80.27 L224.10,80.55 L224.31,80.83 L224.51,81.11 L224.72,81.38 L224.93,81.65 L225.14,81.91 L225.34,82.18 L225.55,82.44 L225.76,82.69 L225.96,82.94 L226.17,83.19 L226.38,83.43 L226.58,83.67 L226.79,83.90 L227.00,84.13 L227.20,84.35 L227.41,84.57 L227.62,84.78 L227.82,84.99 L228.03,85.19 L228.24,85.38 L228.44,85.58 L228.65,85.77 L228.86,85.96 L229.06,86.14 L229.27,86.33 L229.48,86.51 L229.68,86.69 L229.89,86.87 L230.10,87.04 L230.30,87.22 L230.51,87.39 L230.72,87.56 L230.92,87.72 L231.13,87.89 L231.34,88.05 L231.54,88.21 L231.75,88.36 L231.96,88.52 L232.16,88.67 L232.37,88.82 L232.58,88.97 L232.78,89.12 L232.99,89.26 L233.20,89.41 L233.40,89.55 L233.61,89.69 L233.82,89.82 L234.02,89.96 L234.23,90.09 L234.44,90.22 L234.65,90.35 L234.85,90.47 L235.06,90.60 L235.27,90.72 L235.47,90.84 L235.68,90.96 L235.89,91.07 L236.09,91.19 L236.30,91.30 L236.51,91.41 L236.71,91.52 L236.92,91.63 L237.13,91.74 L237.33,91.85 L237.54,91.95 L237.75,92.06 L237.95,92.16 L238.16,92.26 L238.37,92.36 L238.57,92.46 L238.78,92.56 L238.99,92.66 L239.19,92.75 L239.40,92.85 L239.61,92.94 L239.81,93.04 L240.02,93.13 L240.23,93.22 L240.43,93.31 L240.64,93.40 L240.85,93.49 L241.05,93.58 L241.26,93.67 L241.47,93.76 L241.67,93.84 L241.88,93.93 L242.09,94.01 L242.29,94.10 L242.50,94.18 L242.71,94.27 L242.91,94.35 L243.12,94.44 L243.33,94.52 L243.54,94.60 L243.74,94.69 L243.95,94.77 L244.16,94.85 L244.36,94.93 L244.57,95.02 L244.78,95.10 L244.98,95.18 L245.19,95.26 L245.40,95.35 L245.60,95.43 L245.81,95.51 L246.02,95.59 L246.22,95.67 L246.43,95.75 L246.64,95.83 L246.84,95.91 L247.05,95.99 L247.26,96.07 L247.46,96.15 L247.67,96.23 L247.88,96.30 L248.08,96.38 L248.29,96.46 L248.50,96.54 L248.70,96.61 L248.91,96.69 L249.12,96.77 L249.32,96.84 L249.53,96.92 L249.74,97.00 L249.94,97.07 L250.15,97.15 L250.36,97.22 L250.56,97.30 L250.77,97.37 L250.98,97.44 L251.18,97.52 L251.39,97.59 L251.60,97.66 L251.80,97.74 L252.01,97.81 L252.22,97.88 L252.42,97.95 L252.63,98.02 L252.84,98.10 L253.05,98.17 L253.25,98.24 L253.46,98.31 L253.67,98.38 L253.87,98.45 L254.08,98.52 L254.29,98.59 L254.49,98.66 L254.70,98.72 L254.91,98.79 L255.11,98.86 L255.32,98.93 L255.53,99.00 L255.73,99.06 L255.94,99.13 L256.15,99.20 L256.35,99.26 L256.56,99.33 L256.77,99.39 L256.97,99.46 L257.18,99.52 L257.39,99.59 L257.59,99.65 L257.80,99.72 L258.01,99.78 L258.21,99.84 L258.42,99.91 L258.63,99.97 L258.83,100.03 L259.04,100.09 L259.25,100.15 L259.45,100.22 L259.66,100.28 L259.87,100.34 L260.07,100.40 L260.28,100.46 L260.49,100.52 L260.69,100.58 L260.90,100.63 L261.11,100.69 L261.31,100.75 L261.32,100.75 L261.39,100.77 L261.46,100.78 L261.52,100.80 L261.53,100.80 L261.60,100.82 L261.67,100.84 L261.73,101.12 L261.74,101.29 L261.81,102.17 L261.88,103.05 L261.93,103.71 L261.95,103.93 L262.02,104.81 L262.09,105.68 L262.14,106.31 L262.16,106.56 L262.23,106.53 L262.30,106.39 L262.35,106.30 L262.37,106.26 L262.44,106.12 L262.51,105.99 L262.56,105.90 L262.58,105.85 L262.65,105.71 L262.72,105.58 L262.76,105.50 L262.79,105.44 L262.86,105.31 L262.93,105.17 L262.97,105.10 L263.00,105.04 L263.07,104.90 L263.14,104.76 L263.18,104.70 L263.21,104.63 L263.28,104.49 L263.35,104.36 L263.38,104.30 L263.42,104.22 L263.49,104.08 L263.56,103.95 L263.59,103.90 L263.63,103.81 L263.70,103.68 L263.77,103.54 L263.80,103.50 L263.84,103.40 L263.91,103.27 L263.98,103.13 L264.00,103.10 L264.05,103.00 L264.12,102.86 L264.19,102.73 L264.21,102.70 L264.26,102.59 L264.33,102.45 L264.40,102.32 L264.42,102.30 L264.48,102.18 L264.55,102.05 L264.62,101.91 L264.62,101.90 L264.69,101.77 L264.76,101.64 L264.83,101.50 L264.83,101.49 L264.90,101.37 L264.97,101.23 L265.04,101.09 L265.04,101.09 L265.11,100.96 L265.18,100.82 L265.24,100.69 L265.25,100.69 L265.32,100.55 L265.39,100.42 L265.45,100.29 L265.46,100.28 L265.53,100.14 L265.60,100.01 L265.66,99.89 L265.67,99.87 L265.74,99.74 L265.81,99.73 L265.86,99.75 L265.88,99.76 L265.95,99.79 L266.02,99.83 L266.07,99.85 L266.09,99.86 L266.16,99.89 L266.23,99.92 L266.28,99.94 L266.30,99.95 L266.37,99.98 L266.44,100.01 L266.48,100.03 L266.51,100.04 L266.58,100.07 L266.65,100.10 L266.69,100.12 L266.72,100.13 L266.79,100.16 L266.86,100.19 L266.90,100.20 L266.93,100.21 L267.00,100.24 L267.07,100.27 L267.10,100.28 L267.14,100.29 L267.21,100.32 L267.28,100.35 L267.35,100.37 L267.42,100.40 L267.49,100.42 L267.56,100.45 L267.63,100.47 L267.70,100.50 L267.77,100.52 L267.84,100.54 L267.91,100.57 L267.98,100.59 L268.05,100.61 L268.12,100.64 L268.19,100.66 L268.26,100.68" stroke="#00ff00" stroke-width="3.0" stroke-dasharray="9 9.1"/>
<path d="M274.6,102.5 H283.6 M292.6,102.5 H300" stroke="#00ff00" stroke-width="3.0"/>
<path d="M187.31,58.62 L187.88,59.88 L188.45,61.06 L189.02,62.15 L189.59,63.17 L190.16,64.11 L190.73,64.98 L191.31,65.80 L191.88,66.55 L192.45,67.25 L193.02,67.90 L193.59,68.50 L194.16,69.06 L194.73,69.58 L195.31,70.07 L195.88,70.52 L196.45,70.93 L197.02,71.32 L197.59,71.68 L198.16,72.01 L198.73,72.32 L199.31,72.61 L199.88,72.88 L200.45,73.13 L201.02,73.36 L201.59,73.57 L202.16,73.77 L202.73,73.95 L203.31,74.12 L203.88,74.28 L204.45,74.43 L205.02,74.57 L205.59,74.70 L206.16,74.81 L206.73,74.92 L207.31,75.03 L207.88,75.12 L208.45,75.21 L209.02,75.29 L209.59,75.37 L210.16,75.44 L210.74,75.50 L211.31,75.56 L211.88,75.62 L212.45,75.67 L213.02,75.72 L213.59,75.76 L214.16,75.81 L214.74,75.84 L215.31,75.88 L215.88,75.91 L216.45,75.95 L217.02,75.97 L217.59,76.00 L218.16,76.03 L218.74,76.05 L219.31,76.07 L219.88,76.09 L220.45,76.11 L221.02,76.13 L221.59,76.14 L222.16,76.16 L222.74,76.17 L223.31,76.18 L223.88,76.20 L224.45,76.21 L225.02,76.22 L225.59,76.23 L226.16,76.24 L226.74,76.24 L227.31,76.25 L227.88,76.26 L228.45,76.26 L229.02,76.27 L229.59,76.28 L230.17,76.28 L230.74,76.29 L231.31,76.29 L231.88,76.30 L232.45,76.30 L233.02,76.30 L233.59,76.31 L234.17,76.31 L234.74,76.31 L235.31,76.31 L235.88,76.32 L236.45,76.32 L237.02,76.32 L237.59,76.32 L238.17,76.33 L238.74,76.33 L239.31,76.33 L239.88,76.33 L240.45,76.33 L241.02,76.33 L241.59,76.33 L242.17,76.34 L242.74,76.34 L243.31,76.34 L243.88,76.34 L244.45,76.34 L245.02,76.34 L245.59,76.34 L246.17,76.34 L246.74,76.34 L247.31,76.34 L247.88,76.34 L248.45,76.34 L249.02,76.34 L249.60,76.34 L250.17,76.34 L250.74,76.35 L251.31,76.35 L251.88,76.35 L252.45,76.35 L253.02,76.35 L253.60,76.35 L254.17,76.35 L254.74,76.35 L255.31,76.35 L255.88,76.35 L256.45,76.35 L257.02,76.35 L257.60,76.35 L258.17,76.35 L258.74,76.35 L259.31,76.35 L259.88,76.35 L260.45,76.35 L261.02,76.35 L261.60,76.35 L262.17,76.35 L262.74,76.35 L263.31,76.35 L263.88,76.35 L264.45,76.35 L265.02,76.35 L265.60,76.35 L266.17,76.35 L266.74,76.35 L267.31,76.35 L267.88,76.35 L268.45,76.35 L269.03,76.35 L269.60,76.35 L270.17,76.35 L270.74,76.35 L271.31,76.35 L271.88,76.35 L272.45,76.35 L273.03,76.35 L273.60,76.35 L274.17,76.35 L274.74,76.35 L275.31,76.35 L275.88,76.35 L276.45,76.35 L277.03,76.35 L277.60,76.35 L278.17,76.35 L278.74,76.35 L279.31,76.35 L279.88,76.35 L280.45,76.35 L281.03,76.35 L281.60,76.35 L282.17,76.35 L282.74,76.35 L283.31,76.35 L283.88,76.35 L284.45,76.35 L285.03,76.35 L285.60,76.35 L286.17,76.35 L286.74,76.35 L287.31,76.35 L287.88,76.35 L288.46,76.35 L289.03,76.35 L289.60,76.35 L290.17,76.35 L290.74,76.35 L291.31,76.35 L291.88,76.35 L292.46,76.35 L293.03,76.35 L293.60,76.35 L294.17,76.35 L294.74,76.35 L295.31,76.35 L295.88,76.35 L296.46,76.35 L297.03,76.35 L297.60,76.35 L298.17,76.35 L298.74,76.35 L299.31,76.35 L299.88,76.35 L300.46,76.35 L301.03,76.35" stroke="#000" stroke-width="2.2"/>
<path d="M187.31,149.68 L187.88,148.42 L188.45,147.24 L189.02,146.15 L189.59,145.13 L190.16,144.19 L190.73,143.32 L191.31,142.50 L191.88,141.75 L192.45,141.05 L193.02,140.40 L193.59,139.80 L194.16,139.24 L194.73,138.72 L195.31,138.23 L195.88,137.78 L196.45,137.37 L197.02,136.98 L197.59,136.62 L198.16,136.29 L198.73,135.98 L199.31,135.69 L199.88,135.42 L200.45,135.17 L201.02,134.94 L201.59,134.73 L202.16,134.53 L202.73,134.35 L203.31,134.18 L203.88,134.02 L204.45,133.87 L205.02,133.73 L205.59,133.60 L206.16,133.49 L206.73,133.38 L207.31,133.27 L207.88,133.18 L208.45,133.09 L209.02,133.01 L209.59,132.93 L210.16,132.86 L210.74,132.80 L211.31,132.74 L211.88,132.68 L212.45,132.63 L213.02,132.58 L213.59,132.54 L214.16,132.49 L214.74,132.46 L215.31,132.42 L215.88,132.39 L216.45,132.35 L217.02,132.33 L217.59,132.30 L218.16,132.27 L218.74,132.25 L219.31,132.23 L219.88,132.21 L220.45,132.19 L221.02,132.17 L221.59,132.16 L222.16,132.14 L222.74,132.13 L223.31,132.12 L223.88,132.10 L224.45,132.09 L225.02,132.08 L225.59,132.07 L226.16,132.06 L226.74,132.06 L227.31,132.05 L227.88,132.04 L228.45,132.04 L229.02,132.03 L229.59,132.02 L230.17,132.02 L230.74,132.01 L231.31,132.01 L231.88,132.00 L232.45,132.00 L233.02,132.00 L233.59,131.99 L234.17,131.99 L234.74,131.99 L235.31,131.99 L235.88,131.98 L236.45,131.98 L237.02,131.98 L237.59,131.98 L238.17,131.97 L238.74,131.97 L239.31,131.97 L239.88,131.97 L240.45,131.97 L241.02,131.97 L241.59,131.97 L242.17,131.96 L242.74,131.96 L243.31,131.96 L243.88,131.96 L244.45,131.96 L245.02,131.96 L245.59,131.96 L246.17,131.96 L246.74,131.96 L247.31,131.96 L247.88,131.96 L248.45,131.96 L249.02,131.96 L249.60,131.96 L250.17,131.96 L250.74,131.95 L251.31,131.95 L251.88,131.95 L252.45,131.95 L253.02,131.95 L253.60,131.95 L254.17,131.95 L254.74,131.95 L255.31,131.95 L255.88,131.95 L256.45,131.95 L257.02,131.95 L257.60,131.95 L258.17,131.95 L258.74,131.95 L259.31,131.95 L259.88,131.95 L260.45,131.95 L261.02,131.95 L261.60,131.95 L262.17,131.95 L262.74,131.95 L263.31,131.95 L263.88,131.95 L264.45,131.95 L265.02,131.95 L265.60,131.95 L266.17,131.95 L266.74,131.95 L267.31,131.95 L267.88,131.95 L268.45,131.95 L269.03,131.95 L269.60,131.95 L270.17,131.95 L270.74,131.95 L271.31,131.95 L271.88,131.95 L272.45,131.95 L273.03,131.95 L273.60,131.95 L274.17,131.95 L274.74,131.95 L275.31,131.95 L275.88,131.95 L276.45,131.95 L277.03,131.95 L277.60,131.95 L278.17,131.95 L278.74,131.95 L279.31,131.95 L279.88,131.95 L280.45,131.95 L281.03,131.95 L281.60,131.95 L282.17,131.95 L282.74,131.95 L283.31,131.95 L283.88,131.95 L284.45,131.95 L285.03,131.95 L285.60,131.95 L286.17,131.95 L286.74,131.95 L287.31,131.95 L287.88,131.95 L288.46,131.95 L289.03,131.95 L289.60,131.95 L290.17,131.95 L290.74,131.95 L291.31,131.95 L291.88,131.95 L292.46,131.95 L293.03,131.95 L293.60,131.95 L294.17,131.95 L294.74,131.95 L295.31,131.95 L295.88,131.95 L296.46,131.95 L297.03,131.95 L297.60,131.95 L298.17,131.95 L298.74,131.95 L299.31,131.95 L299.88,131.95 L300.46,131.95 L301.03,131.95" stroke="#000" stroke-width="2.2"/>
</g>
<rect x="189.5" y="62.6" width="109.70" height="83.20" fill="none" stroke="#1c1c1c" stroke-width="1.3"/>
<path d="M222.00,145.8 v-1.3 M222.00,62.6 v1.3 M260.55,145.8 v-1.3 M260.55,62.6 v1.3 M189.5,76.35 h1.3 M299.2,76.35 h-1.3 M189.5,104.15 h1.3 M299.2,104.15 h-1.3 M189.5,131.95 h1.3 M299.2,131.95 h-1.3 " stroke="#1c1c1c" stroke-width="1.3" fill="none"/>
<g font-family="Liberation Sans, Arial, sans-serif" font-size="17.9" fill="#262626">
<text x="181.2" y="84.05" text-anchor="end">0.01</text>
<text x="181.2" y="111.85" text-anchor="end">0</text>
<text x="181.2" y="139.65" text-anchor="end">-0.01</text>
<text x="222.00" y="171.8" text-anchor="middle">2</text>
<text x="260.55" y="171.8" text-anchor="middle">3</text>
<text x="299.10" y="171.8" text-anchor="middle">4</text>
</g>
<rect x="161.9" y="228.4" width="111.30" height="82.80" fill="#fff"/>
<g clip-path="url(#c2)" fill="none">
<path d="M161.4,263.71 H273.7" stroke="#ff0000" stroke-width="3.0"/>
<path d="M161.4,286.01 H273.7" stroke="#0000ff" stroke-width="3.0" stroke-dasharray="9 2.4 4.3 2.4"/>
<path d="M161.4,259.39 H273.7" stroke="#00ff00" stroke-width="3.0" stroke-dasharray="9 9.1"/>
</g>
<rect x="161.9" y="228.4" width="111.30" height="82.80" fill="none" stroke="#1c1c1c" stroke-width="1.3"/>
<path d="M217.55,311.2 v-1.3 M217.55,228.4 v1.3 M161.9,235.45 h1.3 M273.2,235.45 h-1.3 M161.9,269.75 h1.3 M273.2,269.75 h-1.3 M161.9,304.05 h1.3 M273.2,304.05 h-1.3 " stroke="#1c1c1c" stroke-width="1.3" fill="none"/>
<g font-family="Liberation Sans, Arial, sans-serif" font-size="17.9" fill="#262626">
<text x="153.6" y="243.15" text-anchor="end">5</text>
<text x="153.6" y="277.45" text-anchor="end">0</text>
<text x="153.6" y="311.75" text-anchor="end">-5</text>
<text x="161.90" y="337.3" text-anchor="middle">8</text>
<text x="217.55" y="337.3" text-anchor="middle">8.5</text>
<text x="273.20" y="337.3" text-anchor="middle">9</text>
<text x="163.0" y="223.6">×<tspan dx="2.6">10</tspan><tspan font-size="12.9" dy="-8.2" dx="2.4">-3</tspan></text>
</g>
<path d="M367.60,146.80 L397.35,167.25" stroke="#000" stroke-width="1.5" fill="none"/><path d="M407.90,174.50 L387.54,170.58 L397.35,167.25 L396.94,156.90 Z" fill="#000"/>
<path d="M368.30,247.60 L401.02,215.82" stroke="#000" stroke-width="1.5" fill="none"/><path d="M410.20,206.90 L402.35,226.09 L401.02,215.82 L390.79,214.18 Z" fill="#000"/>
<path d="M358.70,213.30 L298.98,249.12" stroke="#000" stroke-width="1.5" fill="none"/><path d="M288.00,255.70 L300.03,238.81 L298.98,249.12 L308.56,253.05 Z" fill="#000"/>
<path d="M99.70,171.40 L139.63,156.24" stroke="#000" stroke-width="1.5" fill="none"/><path d="M151.60,151.70 L136.78,166.20 L139.63,156.24 L130.89,150.68 Z" fill="#000"/>
<g font-family="Liberation Sans, Arial, sans-serif" font-size="17.9" fill="#000">
<text x="356.4" y="142.9" font-style="italic">ρ</text>
<text x="349.6" y="269.2">-<tspan font-style="italic" dx="2.3">ρ</tspan></text>
</g>
<rect x="432.6" y="27.9" width="89.1" height="90.5" fill="#fff" stroke="#1c1c1c" stroke-width="1.2"/>
<path d="M438.3,44.5 H494.7" stroke="#ff0000" stroke-width="3.0"/>
<path d="M438.3,73.2 H494.7" stroke="#0000ff" stroke-width="3.0" stroke-dasharray="9 2.4 4.3 2.4"/>
<path d="M438.3,102.0 H494.7" stroke="#00ff00" stroke-width="3.0" stroke-dasharray="9 9.1"/>
<g font-family="Liberation Sans, Arial, sans-serif" font-size="17.9" fill="#000">
<text x="499.0" y="48.0"><tspan font-style="italic">e</tspan><tspan font-size="12.9" dy="7.8" dx="-0.6">1</tspan></text>
<text x="499.0" y="76.7"><tspan font-style="italic">e</tspan><tspan font-size="12.9" dy="7.8" dx="-0.6">2</tspan></text>
<text x="499.0" y="105.5"><tspan font-style="italic">e</tspan><tspan font-size="12.9" dy="7.8" dx="-0.6">3</tspan></text>
</g>
<path d="M283.5,98.2 V35.2 a4,4 0 0 1 4,-4 H415 a4,4 0 0 1 4,4 V94.2 a4,4 0 0 1 -4,4 Z" fill="#f6f6fb" stroke="#7a7a7a" stroke-width="1.2"/>
<g font-family="Liberation Sans, Arial, sans-serif" font-size="17.8">
<text x="293.0" y="59.1" fill="#666">X <tspan x="311.8" font-weight="bold" letter-spacing="0.25" fill="#1095f9">3.554</tspan></text>
<text x="293.0" y="84.8" fill="#666">Y <tspan x="311.8" font-weight="bold" letter-spacing="0.25" fill="#1095f9">0.00130034</tspan></text>
</g>
<circle cx="281.9" cy="100.6" r="4.7" fill="#fffbe0"/>
<circle cx="281.9" cy="100.6" r="3.2" fill="#111"/>
<text x="256.8" y="440.0" font-family="Liberation Serif, serif" font-size="24" fill="#111">(<tspan font-weight="bold">b</tspan>)</text>
</svg>
</body></html>
